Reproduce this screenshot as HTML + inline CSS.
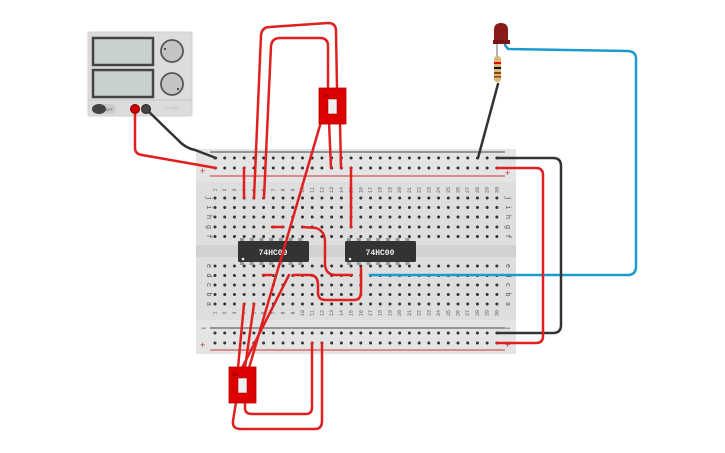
<!DOCTYPE html>
<html><head><meta charset="utf-8"><style>
html,body{margin:0;padding:0;background:#fff;}
svg{display:block;font-family:"Liberation Mono",monospace;}
</style></head><body>
<svg id="s" width="725" height="453" viewBox="0 0 725 453" xmlns="http://www.w3.org/2000/svg">
<rect x="88" y="32" width="104" height="84" rx="2" fill="#dcdcdc" stroke="#cfcfcf"/>
<rect x="93" y="38" width="60" height="27" fill="#c9d0d0" stroke="#444" stroke-width="2.5"/>
<rect x="93" y="70" width="60" height="27" fill="#c9d0d0" stroke="#444" stroke-width="2.5"/>
<circle cx="172" cy="51" r="11" fill="#c4c4c4" stroke="#555" stroke-width="1.8"/>
<circle cx="172" cy="84" r="11" fill="#c4c4c4" stroke="#555" stroke-width="1.8"/>
<circle cx="165" cy="49" r="1" fill="#333"/><circle cx="178" cy="89" r="1" fill="#333"/>
<line x1="88" y1="100" x2="192" y2="100" stroke="#c8c8c8"/>
<rect x="92" y="104" width="24" height="10" rx="5" fill="#ccc"/>
<ellipse cx="99" cy="109" rx="7" ry="5" fill="#444"/>
<text x="106" y="111" font-size="4" fill="#555">OFF</text>
<text x="164" y="109" font-size="3.5" fill="#bbb">VOLTAGE</text>
<rect x="196" y="149" width="320" height="205" rx="2" fill="#dedede"/>
<rect x="196" y="149" width="320" height="33" fill="#e4e4e4"/>
<rect x="196" y="320" width="320" height="34" fill="#e4e4e4"/>
<rect x="196" y="245" width="320" height="12" fill="#d2d2d2"/>
<line x1="210" y1="152" x2="505" y2="152" stroke="#444" stroke-width="1"/>
<line x1="210" y1="176" x2="505" y2="176" stroke="#c33" stroke-width="1"/>
<line x1="210" y1="328" x2="505" y2="328" stroke="#444" stroke-width="1"/>
<line x1="210" y1="350" x2="505" y2="350" stroke="#c33" stroke-width="1"/>
<text x="200" y="174" font-size="9" fill="#b33">+</text>
<text x="505" y="176" font-size="9" fill="#b33">+</text>
<text x="200" y="348" font-size="9" fill="#b33">+</text>
<text x="505" y="348" font-size="9" fill="#b33">+</text>
<text x="201" y="331" font-size="9" fill="#444">−</text>
<text x="505" y="331" font-size="9" fill="#444">−</text>
<g id="holes"></g>
<rect x="238" y="241" width="71" height="21" rx="1.5" fill="#333"/>
<rect x="345" y="241" width="71" height="21" rx="1.5" fill="#333"/>
<text x="273" y="255" font-size="8" fill="#eee" text-anchor="middle" font-weight="bold">74HC00</text>
<text x="380" y="255" font-size="8" fill="#eee" text-anchor="middle" font-weight="bold">74HC00</text>
<circle cx="243" cy="259" r="1.3" fill="#eee"/><circle cx="350" cy="259" r="1.3" fill="#eee"/>
<g fill="none" stroke-linecap="round" stroke-linejoin="round">
<path d="M135 109 L135 148 Q135 154 142 155 L216 168" stroke="#e02020" stroke-width="2.5"/>
<path d="M146 109 L178 140 Q185 148 195 150 L216 158" stroke="#333" stroke-width="2.5"/>
<path d="M244 168 L244 198" stroke="#e02020" stroke-width="2.5"/>
<path d="M254 198 L261 35 Q262 27 270 27 L328 23 Q336 23 336 31 L337 88" stroke="#e02020" stroke-width="2.5"/>
<path d="M264 198 L271 46 Q272 38 280 38 L320 38 Q328 38 328 46 L328 88" stroke="#e02020" stroke-width="2.5"/>
<path d="M329 122 L331 168 M340 122 L341 168" stroke="#e02020" stroke-width="2.5"/>
<path d="M351 168 L351 227" stroke="#e02020" stroke-width="2.5"/>
<path d="M321 122 L249 368" stroke="#e02020" stroke-width="2.5"/>
<path d="M289 275 L242 368" stroke="#e02020" stroke-width="2.5"/>
<path d="M244 304 L238 368 M254 304 L245 368" stroke="#e02020" stroke-width="2.5"/>
<path d="M272 227 L283 227" stroke="#e02020" stroke-width="2.5"/>
<path d="M303 227 L316 228 Q325 231 325 242 L325 265 Q326 275 336 275 L352 275" stroke="#e02020" stroke-width="2.5"/>
<path d="M263 275 L272 275" stroke="#e02020" stroke-width="2.5"/>
<path d="M293 275 L311 275 Q318 276 318 285 L318 293 Q318 300 326 300 L354 300 Q361 300 361 292 L361 268" stroke="#e02020" stroke-width="2.5"/>
<path d="M245 402 L245 408 Q245 414 252 414 L306 414 Q312 414 312 407 L312 343" stroke="#e02020" stroke-width="2.5"/>
<path d="M236 402 L233 421 Q232 429 241 429 L315 429 Q322 429 322 421 L322 343" stroke="#e02020" stroke-width="2.5"/>
<path d="M370 275 L628 275 Q636 275 636 266 L636 59 Q636 51 627 51 L508 49 L505 45" stroke="#1a9bd0" stroke-width="2.5"/>
<path d="M498 84 L478 158" stroke="#333" stroke-width="2.5"/>
<path d="M497 158 L553 158 Q561 158 561 166 L561 325 Q561 333 553 333 L497 333" stroke="#333" stroke-width="2.5"/>
<path d="M497 168 L536 168 Q543 168 543 175 L543 336 Q543 343 536 343 L497 343" stroke="#e02020" stroke-width="2.5"/>
</g>
<rect x="319" y="88" width="27" height="36" fill="#dd0000" stroke="#b00" stroke-width="0.8"/>
<rect x="328" y="99" width="9" height="15" fill="#eee" stroke="#900" stroke-width="0.5"/>
<text x="324" y="97" font-size="4" fill="#300">ON</text>
<rect x="229" y="367" width="27" height="36" fill="#dd0000" stroke="#b00" stroke-width="0.8"/>
<rect x="238" y="378" width="9" height="15" fill="#eee" stroke="#900" stroke-width="0.5"/>
<text x="233" y="376" font-size="4" fill="#300">ON</text>
<line x1="497" y1="40" x2="497" y2="58" stroke="#999" stroke-width="1.5"/>
<path d="M494 42 L494 30 Q494 23 501 23 Q508 23 508 30 L508 42 Z" fill="#8b1a1a"/>
<rect x="493" y="40" width="17" height="4" fill="#7a1515"/>
<rect x="494" y="56" width="7" height="26" rx="3" fill="#d8b878"/>
<rect x="494" y="62" width="7" height="2" fill="#e00"/>
<rect x="494" y="67" width="7" height="2" fill="#111"/>
<rect x="494" y="72" width="7" height="2" fill="#8b4513"/>
<rect x="494" y="76" width="7" height="1.5" fill="#8b4513"/>
<circle cx="135" cy="109" r="4.5" fill="#c00" stroke="#800"/>
<circle cx="146" cy="109" r="4.5" fill="#444" stroke="#222"/>
</svg>
<script>
(function(){
var g=document.getElementById('holes'),h='';
function X(c){return 215+(c-1)*9.72;}
var rows=[198,207.5,217,227,236.5,266,275.5,285,294.5,304];
var rl=['j','i','h','g','f','e','d','c','b','a'];
for(var c=1;c<=30;c++){
 var x=X(c);
 rows.concat([158,168,333,343]).forEach(function(y){h+='<circle cx="'+x+'" cy="'+y+'" r="1.5" fill="#333"/>';});
 h+='<text transform="translate('+(x+1.5)+',190) rotate(-90)" font-size="5" fill="#555" text-anchor="middle">'+c+'</text>';
 h+='<text transform="translate('+(x+1.5)+',313) rotate(-90)" font-size="5" fill="#555" text-anchor="middle">'+c+'</text>';
}
rows.forEach(function(y,i){
 h+='<text transform="translate(207,'+y+') rotate(90)" font-size="7" fill="#555" text-anchor="middle">'+rl[i]+'</text>';
 h+='<text transform="translate(506,'+y+') rotate(90)" font-size="7" fill="#555" text-anchor="middle">'+rl[i]+'</text>';
});
[238,345].forEach(function(cx){
 for(var p=0;p<7;p++){var x=cx+4+p*9.72;
  h+='<rect x="'+(x-2)+'" y="238" width="4" height="3" fill="#999"/>';
  h+='<rect x="'+(x-2)+'" y="262" width="4" height="3" fill="#999"/>';}
});
g.innerHTML=h;
})();
</script>
</body></html>
